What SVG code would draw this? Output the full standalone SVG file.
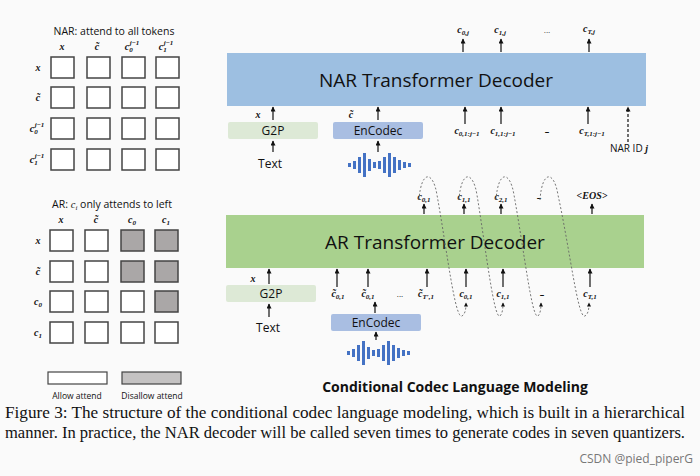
<svg xmlns="http://www.w3.org/2000/svg" width="700" height="476" viewBox="0 0 700 476">
<defs>
<marker id="ah" viewBox="0 0 10 10" refX="9" refY="5" markerWidth="6" markerHeight="5" orient="auto" markerUnits="userSpaceOnUse"><path d="M0,0 L10,5 L0,10 Z" fill="#111"/></marker>
<marker id="ahs" viewBox="0 0 10 10" refX="9" refY="5" markerWidth="5" markerHeight="4" orient="auto" markerUnits="userSpaceOnUse"><path d="M0,0 L10,5 L0,10 Z" fill="#111"/></marker>
<g id="wave">
<rect x="0" y="10" width="3" height="4"/><rect x="5" y="8" width="3" height="8"/><rect x="10" y="4" width="3" height="16"/><rect x="15" y="0" width="3" height="24"/><rect x="20" y="6" width="3" height="12"/><rect x="25" y="9" width="3" height="6"/><rect x="30" y="8" width="3" height="8"/><rect x="35" y="4" width="3" height="16"/><rect x="40" y="0" width="3" height="24"/><rect x="45" y="4" width="3" height="16"/><rect x="50" y="7" width="3" height="10"/><rect x="55" y="9" width="3" height="6"/><rect x="60" y="10" width="3" height="4"/>
</g>
</defs>
<style>
.s{font-family:"Open Sans","Liberation Sans",Arial,sans-serif;fill:#111}
.m{font-family:"Liberation Serif","Times New Roman",serif;font-style:italic;font-weight:bold;font-size:10px;fill:#111}
.sub{font-size:7px}
.c{fill:#fff;stroke:#444;stroke-width:1.5}
.g{fill:#aaa7a7;stroke:#444;stroke-width:1.5}
.a{stroke:#111;stroke-width:1.2;fill:none;marker-end:url(#ah)}
.loop{stroke:#666;stroke-width:0.9;fill:none;stroke-dasharray:2,2}
.cap{font-family:"Liberation Serif","Times New Roman",serif;font-size:17px;fill:#111}
</style>
<rect width="700" height="476" fill="#fafafa"/>

<g id="nar-matrix">
<text class="s" x="114" y="35" text-anchor="middle" font-size="10.5">NAR:  attend to all tokens</text>
<text class="m" x="62" y="50" text-anchor="middle">x</text>
<text class="m" x="97" y="50" text-anchor="middle">c̃</text>
<text class="m" x="132" y="50" text-anchor="middle">c<tspan class="sub" dy="2">0</tspan><tspan class="sub" dy="-7" dx="-3">j−1</tspan></text>
<text class="m" x="166" y="50" text-anchor="middle">c<tspan class="sub" dy="2">1</tspan><tspan class="sub" dy="-7" dx="-3">j−1</tspan></text>
<text class="m" x="38" y="71" text-anchor="middle">x</text>
<text class="m" x="38" y="101" text-anchor="middle">c̃</text>
<text class="m" x="37" y="132" text-anchor="middle">c<tspan class="sub" dy="2">0</tspan><tspan class="sub" dy="-7" dx="-3">j−1</tspan></text>
<text class="m" x="37" y="163" text-anchor="middle">c<tspan class="sub" dy="2">1</tspan><tspan class="sub" dy="-7" dx="-3">j−1</tspan></text>
<rect class="c" x="51" y="57" width="23" height="21"/><rect class="c" x="87" y="57" width="23" height="21"/><rect class="c" x="122" y="57" width="23" height="21"/><rect class="c" x="156" y="57" width="23" height="21"/>
<rect class="c" x="51" y="87" width="23" height="21"/><rect class="c" x="87" y="87" width="23" height="21"/><rect class="c" x="122" y="87" width="23" height="21"/><rect class="c" x="156" y="87" width="23" height="21"/>
<rect class="c" x="51" y="118" width="23" height="21"/><rect class="c" x="87" y="118" width="23" height="21"/><rect class="c" x="122" y="118" width="23" height="21"/><rect class="c" x="156" y="118" width="23" height="21"/>
<rect class="c" x="51" y="149" width="23" height="21"/><rect class="c" x="87" y="149" width="23" height="21"/><rect class="c" x="122" y="149" width="23" height="21"/><rect class="c" x="156" y="149" width="23" height="21"/>
</g>

<g id="ar-matrix">
<text class="s" x="112" y="208" text-anchor="middle" font-size="10.5">AR: <tspan font-family="Liberation Serif,serif" font-style="italic">c</tspan><tspan font-size="7" font-family="Liberation Serif,serif" font-style="italic" dy="2">i</tspan><tspan dy="-2"> only attends to left</tspan></text>
<text class="m" x="61" y="223" text-anchor="middle">x</text>
<text class="m" x="96" y="223" text-anchor="middle">c̃</text>
<text class="m" x="132" y="223" text-anchor="middle">c<tspan class="sub" dy="2">0</tspan></text>
<text class="m" x="166" y="223" text-anchor="middle">c<tspan class="sub" dy="2">1</tspan></text>
<text class="m" x="38" y="244" text-anchor="middle">x</text>
<text class="m" x="38" y="275" text-anchor="middle">c̃</text>
<text class="m" x="38" y="305" text-anchor="middle">c<tspan class="sub" dy="2">0</tspan></text>
<text class="m" x="38" y="336" text-anchor="middle">c<tspan class="sub" dy="2">1</tspan></text>
<rect class="c" x="50" y="230" width="23" height="21"/><rect class="c" x="85" y="230" width="23" height="21"/><rect class="g" x="121" y="230" width="23" height="21"/><rect class="g" x="155" y="230" width="23" height="21"/>
<rect class="c" x="50" y="261" width="23" height="21"/><rect class="c" x="85" y="261" width="23" height="21"/><rect class="g" x="121" y="261" width="23" height="21"/><rect class="g" x="155" y="261" width="23" height="21"/>
<rect class="c" x="50" y="291" width="23" height="21"/><rect class="c" x="85" y="291" width="23" height="21"/><rect class="c" x="121" y="291" width="23" height="21"/><rect class="g" x="155" y="291" width="23" height="21"/>
<rect class="c" x="50" y="322" width="23" height="21"/><rect class="c" x="85" y="322" width="23" height="21"/><rect class="c" x="121" y="322" width="23" height="21"/><rect class="c" x="155" y="322" width="23" height="21"/>
</g>

<g id="legend">
<rect x="48" y="372" width="59" height="12" fill="#fff" stroke="#444" stroke-width="1.2"/>
<rect x="122" y="372" width="59" height="12" fill="#c4c2c2" stroke="#444" stroke-width="1.2"/>
<text class="s" x="77" y="399" text-anchor="middle" font-size="8.5">Allow attend</text>
<text class="s" x="152" y="399" text-anchor="middle" font-size="8.5">Disallow attend</text>
</g>

<g id="nar-decoder">
<rect x="227" y="53" width="419" height="53" fill="#9dbfe1"/>
<text class="s" x="436" y="87" text-anchor="middle" font-size="19">NAR Transformer Decoder</text>
</g>
<g id="nar-g2p"><rect x="228" y="122" width="90" height="17" rx="2" fill="#dde9d6"/><text class="s" x="273" y="135" text-anchor="middle" font-size="12">G2P</text></g>
<g id="nar-encodec"><rect x="333" y="122" width="90" height="17" rx="2" fill="#a9bee2"/><text class="s" x="378" y="135" text-anchor="middle" font-size="12">EnCodec</text></g>
<g id="nar-text"><text class="s" x="270" y="168" text-anchor="middle" font-size="12">Text</text></g>
<g id="nar-wave" fill="#4472c4"><use href="#wave" x="348" y="153"/></g>
<g id="nar-labels">
<text class="m" x="258" y="118" text-anchor="middle">x</text>
<text class="m" x="351" y="118" text-anchor="middle">c̃</text>
<text class="m" x="463" y="33" text-anchor="middle">c<tspan class="sub" dy="2">0,j</tspan></text>
<text class="m" x="500" y="33" text-anchor="middle">c<tspan class="sub" dy="2">1,j</tspan></text>
<text x="547" y="33" text-anchor="middle" font-size="8" font-family="Liberation Sans,sans-serif" fill="#111">...</text>
<text class="m" x="589" y="32" text-anchor="middle">c<tspan class="sub" dy="2">T,j</tspan></text>
<text class="m" x="467" y="134" text-anchor="middle">c<tspan class="sub" dy="2">0,1:j−1</tspan></text>
<text class="m" x="503" y="134" text-anchor="middle">c<tspan class="sub" dy="2">1,1:j−1</tspan></text>
<text class="s" x="547" y="135" text-anchor="middle" font-size="9" font-weight="bold">–</text>
<text class="m" x="592" y="134" text-anchor="middle">c<tspan class="sub" dy="2">T,1:j−1</tspan></text>
<text class="s" x="610" y="152" font-size="10">NAR ID <tspan font-family="Liberation Serif,serif" font-style="italic" font-weight="bold">j</tspan></text>
</g>

<g id="ar-decoder">
<rect x="226" y="215" width="418" height="53" fill="#a9d18e"/>
<text class="s" x="435" y="249" text-anchor="middle" font-size="19">AR Transformer Decoder</text>
</g>
<g id="ar-g2p"><rect x="226" y="285" width="90" height="17" rx="2" fill="#dde9d6"/><text class="s" x="271" y="298" text-anchor="middle" font-size="12">G2P</text></g>
<g id="ar-encodec"><rect x="331" y="314" width="90" height="17" rx="2" fill="#a9bee2"/><text class="s" x="376" y="327" text-anchor="middle" font-size="12">EnCodec</text></g>
<g id="ar-text"><text class="s" x="268" y="332" text-anchor="middle" font-size="12">Text</text></g>
<g id="ar-wave" fill="#4472c4"><use href="#wave" x="347" y="341"/></g>
<g id="ar-labels">
<text class="m" x="253" y="282" text-anchor="middle">x</text>
<text class="m" x="424" y="200" text-anchor="middle">c<tspan class="sub" dy="2">0,1</tspan></text>
<text class="m" x="464" y="200" text-anchor="middle">c<tspan class="sub" dy="2">1,1</tspan></text>
<text class="m" x="501" y="200" text-anchor="middle">c<tspan class="sub" dy="2">2,1</tspan></text>
<text class="s" x="539" y="201" text-anchor="middle" font-size="9" font-weight="bold">–</text>
<text class="m" x="592" y="199" text-anchor="middle" font-size="8">&lt;EOS&gt;</text>
<text class="m" x="338" y="297" text-anchor="middle">c̃<tspan class="sub" dy="2">0,1</tspan></text>
<text class="m" x="368" y="297" text-anchor="middle">c̃<tspan class="sub" dy="2">0,1</tspan></text>
<text class="s" x="400" y="297" text-anchor="middle" font-size="8">...</text>
<text class="m" x="426" y="297" text-anchor="middle">c̃<tspan class="sub" dy="2">T′,1</tspan></text>
<text class="m" x="466" y="297" text-anchor="middle">c<tspan class="sub" dy="2">0,1</tspan></text>
<text class="m" x="503" y="297" text-anchor="middle">c<tspan class="sub" dy="2">1,1</tspan></text>
<text class="s" x="542" y="298" text-anchor="middle" font-size="9" font-weight="bold">–</text>
<text class="m" x="590" y="297" text-anchor="middle">c<tspan class="sub" dy="2">T,1</tspan></text>
</g>

<g id="connectors">
<line class="a" x1="463" y1="52" x2="463" y2="39"/><line class="a" x1="501" y1="52" x2="501" y2="39"/><line class="a" x1="589" y1="52" x2="589" y2="39"/>
<line class="a" x1="273" y1="120" x2="273" y2="107"/><line class="a" x1="378" y1="120" x2="378" y2="107"/>
<line class="a" x1="273" y1="152" x2="273" y2="141"/><line class="a" x1="378" y1="152" x2="378" y2="141"/>
<line class="a" x1="465" y1="124" x2="465" y2="107"/><line class="a" x1="501" y1="124" x2="501" y2="107"/><line class="a" x1="588" y1="124" x2="588" y2="107"/>
<line class="a" x1="628" y1="142" x2="628" y2="107" stroke-dasharray="3,2"/>
<line class="a" x1="424" y1="214" x2="424" y2="204"/><line class="a" x1="464" y1="214" x2="464" y2="204"/><line class="a" x1="501" y1="214" x2="501" y2="204"/><line class="a" x1="592" y1="214" x2="592" y2="204"/>
<line class="a" x1="269" y1="284" x2="269" y2="269"/><line class="a" x1="337" y1="287" x2="337" y2="269"/><line class="a" x1="368" y1="287" x2="368" y2="269"/><line class="a" x1="427" y1="287" x2="427" y2="269"/>
<line class="a" x1="466" y1="287" x2="466" y2="269"/><line class="a" x1="503" y1="287" x2="503" y2="269"/><line class="a" x1="590" y1="287" x2="590" y2="269"/>
<line class="a" x1="269" y1="317" x2="269" y2="304"/><line class="a" x1="375" y1="313" x2="375" y2="302"/><line class="a" x1="376" y1="340" x2="376" y2="332"/>
<path class="loop" d="M419,200 C421,170 433,170 437,195 C447,250 455,320 462,316 C465,314 466,310 466,303" marker-end="url(#ahs)"/>
<path class="loop" d="M459,200 C461,170 473,170 477,195 C486,250 494,320 500,316 C502,314 503,310 503,303" marker-end="url(#ahs)"/>
<path class="loop" d="M496,200 C498,170 510,170 514,195 C524,250 532,320 538,316 C540,314 541,310 541,303" marker-end="url(#ahs)"/>
<path class="loop" d="M540,200 C542,170 554,170 558,195 C570,250 578,320 585,316 C588,314 589,310 589,303" marker-end="url(#ahs)"/>
</g>

<text class="s" x="455" y="392" text-anchor="middle" font-size="14" font-weight="bold">Conditional Codec Language Modeling</text>
<text class="cap" x="5" y="418" textLength="680" lengthAdjust="spacingAndGlyphs">Figure 3: The structure of the conditional codec language modeling, which is built in a hierarchical</text>
<text class="cap" x="5" y="438" textLength="680" lengthAdjust="spacingAndGlyphs">manner. In practice, the NAR decoder will be called seven times to generate codes in seven quantizers.</text>
<text class="s" x="693" y="463" text-anchor="end" font-size="12" style="fill:#777">CSDN @pied_piperG</text>
</svg>
